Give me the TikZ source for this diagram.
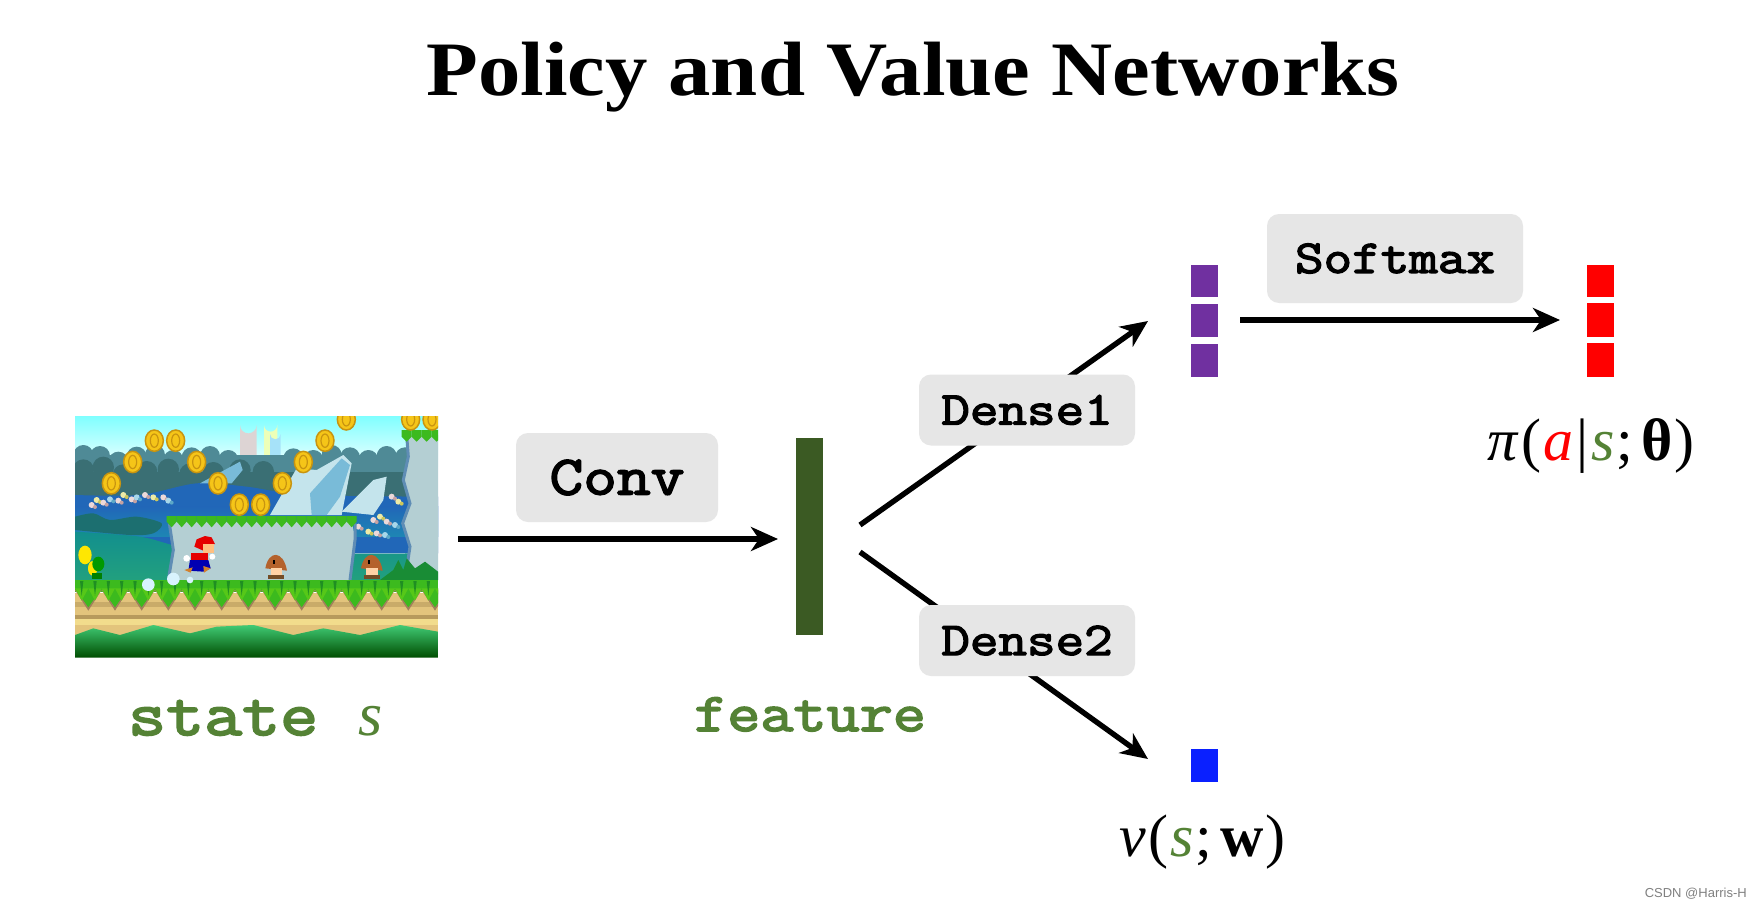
\documentclass[tikz,border=0pt]{standalone}
\usepackage{fontspec}
\usetikzlibrary{arrows.meta,shapes.geometric}
\setmainfont{Liberation Serif}
\newfontfamily\crbold{Latin Modern Mono}[FakeBold=3,FakeStretch=1.18]
\newfontfamily\titlefont{Liberation Serif}[FakeStretch=1.1]
\newcommand{\sz}[1]{\fontsize{#1}{#1}\selectfont}
\definecolor{boxgray}{HTML}{E6E6E6}
\definecolor{stategreen}{HTML}{548235}
\definecolor{barGreen}{HTML}{3B5A23}
\definecolor{barPurple}{HTML}{7030A0}
\definecolor{barBlue}{HTML}{0A20FF}
\definecolor{coinY}{HTML}{F5C518}
\definecolor{coinD}{HTML}{C89410}
\definecolor{grassG}{HTML}{3CBA1E}
\definecolor{grassD}{HTML}{1F8F22}
\definecolor{rockB}{HTML}{B4CFD3}
\definecolor{rockE}{HTML}{5F8DB5}
\definecolor{forA}{HTML}{4F8A96}
\definecolor{forB}{HTML}{3A6F74}
\definecolor{waterA}{HTML}{2167B8}
\definecolor{waterB}{HTML}{1E86B4}
\definecolor{hillA}{HTML}{128F8E}
\definecolor{hillB}{HTML}{22A07E}
\definecolor{bushT}{HTML}{1C6F70}
\definecolor{crysA}{HTML}{C4E4EC}
\definecolor{crysB}{HTML}{79BBD8}
\definecolor{tanA}{HTML}{E3C47C}
\definecolor{tanB}{HTML}{B79A5C}
\definecolor{tanC}{HTML}{F2DC8C}
\definecolor{goom}{HTML}{B4622C}
\tikzset{
  opbox/.style={fill=boxgray,rounded corners=12pt,inner sep=0pt,text=black,align=center},
  cell/.style={inner sep=0pt,minimum width=27.4pt,draw=none},
  conn/.style={line width=5.4pt,-{Stealth[length=27pt,width=24pt,inset=8pt]}},
  glabel/.style={inner sep=0pt,anchor=base,text=stategreen},
  mlabel/.style={inner sep=0pt,anchor=base west},
  coin/.style={fill=coinY,draw=coinD,line width=1.5pt}
}
\begin{document}
\begin{tikzpicture}[x=1pt,y=-1pt]
\useasboundingbox (0,0) rectangle (1760,907);
\fill[white] (0,0) rectangle (1760,907);
% ---------- game screenshot ----------
\begin{scope}[shift={(40,380)},x=0.33333pt,y=-0.33333pt]
\clip (105,108) rectangle (1194,833);
\shade[top color=cyan!50,bottom color=cyan!6] (105,108) rectangle (1194,260);
\fill[red!12!gray!30] (600,235) -- (600,135) arc[start angle=180,end angle=0,radius=25] -- (650,235) -- cycle;
\fill[green!25!yellow!28] (672,235) -- (672,135) arc[start angle=180,end angle=0,radius=20] -- (712,235) -- cycle;
\fill[cyan!35] (690,235) -- (690,162) arc[start angle=180,end angle=0,radius=16] -- (722,235) -- cycle;
\fill[forA] (105,225) rectangle (1194,380);
\foreach \x/\y in {130/225,180/228,235/245,290/230,345/225,400/240,455/232,510/228,565/240,760/235,820/240,875/225,930/232,985/240,1040/228,1095/232}
  {\fill[forA] (\x,\y) circle[radius=30];}
\fill[forB] (105,275) rectangle (1194,380);
\foreach \x/\y in {130/270,190/262,250/285,320/275,385/268,450/282,520/278,600/270,670/275}
  {\fill[forB] (\x,\y) circle[radius=32];}
\fill[waterA] plot[smooth] coordinates {(105,345) (300,345) (470,310) (620,320) (800,345) (1194,350)} -- (1194,520) -- (105,520) -- cycle;
\shade[top color=waterA,bottom color=waterB] (105,380) rectangle (1194,470);
\fill[crysB] (480,310) -- (600,245) -- (608,270) -- (575,310) -- cycle;
\fill[crysA] (690,405) -- (770,265) -- (830,270) -- (910,225) -- (935,250) -- (905,405) -- cycle;
\fill[crysB] (810,340) -- (905,235) -- (930,255) -- (900,350) -- (860,405) -- (815,405) -- cycle;
\fill[crysA] (905,395) -- (1000,300) -- (1040,290) -- (1030,360) -- (1000,405) -- cycle;
\shade[top color=hillA,bottom color=hillB] plot[smooth] coordinates {(105,455) (300,470) (420,500) (600,520) (1194,520)} -- (1194,600) -- (105,600) -- cycle;
\fill[bushT] plot[smooth] coordinates {(105,410) (160,400) (210,420) (290,410) (365,430) (340,460) (270,465) (105,450)} -- cycle;
\foreach \x/\y/\c in {155/375/pink,170/360/yellow,190/368/pink,210/358/cyan,235/362/pink,250/345/yellow,275/358/pink,290/352/cyan,315/345/pink,340/352/yellow,370/352/pink,385/362/cyan,1000/420/pink,1020/410/yellow,1040/425/pink,1065/435/cyan,955/440/pink,985/455/yellow,1010/460/pink,1035/465/cyan,1055/350/pink,1075/365/yellow}
  {\fill[\c!35!white!85!gray] (\x,\y) circle[radius=9]; \fill[\c!55!gray] (\x+10,\y+6) circle[radius=6];}
% platform
\fill[rockB] (388,425) -- (935,425) -- (945,470) -- (930,600) -- (385,600) -- (400,510) -- cycle;
\draw[rockE,line width=3pt] (388,430) -- (400,510) -- (385,600);
\draw[rockE,line width=3pt] (945,430) -- (945,480) -- (930,600);
\foreach \x in {380,410,...,920}
  {\fill[grassG] (\x,408) -- (\x+30,408) -- (\x+30,425) -- (\x+15,442) -- (\x,425) -- cycle;}
% right pillar
\fill[rockB] (1100,165) -- (1194,165) -- (1194,600) -- (1095,600) -- (1110,500) -- (1088,430) -- (1110,370) -- (1090,300) -- (1105,230) -- cycle;
\draw[rockE,line width=3pt] (1100,165) -- (1105,230) -- (1090,300) -- (1110,370) -- (1088,430) -- (1110,500) -- (1095,600);
\foreach \x in {1085,1115,...,1175}
  {\fill[grassG] (\x,150) -- (\x+30,150) -- (\x+30,170) -- (\x+15,185) -- (\x,170) -- cycle;}
\fill[grassD!80!teal] (1020,600) -- (1060,570) -- (1075,540) -- (1090,570) -- (1100,535) -- (1125,565) -- (1155,545) -- (1194,575) -- (1194,600) -- cycle;
% coins
\foreach \x/\y in {343/182,407/182,278/246,470/246,214/310,534/310,598/374,662/374,727/310,790/246,855/182,919/118,1112/118,1176/118}
  {\draw[coin] (\x,\y) ellipse[x radius=27,y radius=32];
   \draw[coinD,line width=1.2pt] (\x,\y) ellipse[x radius=12,y radius=20];}
% ground
\fill[tanA] (105,640) rectangle (1194,790);
\fill[tanB] (105,705) rectangle (1194,716);
\fill[tanC] (105,716) rectangle (1194,736);
\fill[tanB!60!tanA] (105,665) rectangle (1194,680);
\fill[grassG] (105,600) rectangle (1194,635);
\foreach \x in {105,185,...,1185}
  {\fill[brown!55!gray] (\x,630) -- (\x+80,630) -- (\x+40,692) -- cycle;
   \fill[grassG] (\x,625) -- (\x+80,625) -- (\x+40,682) -- cycle;}
\foreach \x in {105,145,...,1185}
  {\fill[grassG!80!lime] (\x,625) -- (\x+40,625) -- (\x+20,662) -- cycle;
   \fill[grassD] (\x+15,603) -- (\x+25,603) -- (\x+20,648) -- cycle;}
\shade[top color=green!45!teal!75,bottom color=green!30!black] (105,765) -- (160,745) -- (240,765) -- (340,735) -- (450,760) -- (530,740) -- (640,735) -- (760,765) -- (850,745) -- (960,765) -- (1080,735) -- (1194,755) -- (1194,833) -- (105,833) -- cycle;
% clouds
\fill[white!85!cyan] (325,614) circle[radius=19] (400,597) circle[radius=19] (450,600) circle[radius=10];
% koopa
\fill[yellow!90!orange] (135,525) ellipse[x radius=20,y radius=28];
\fill[yellow!90!orange] (158,565) ellipse[x radius=14,y radius=22];
\fill[green!60!black] (175,552) ellipse[x radius=18,y radius=22];
\fill[green!50!black] (155,580) rectangle (185,598);
% mario
\fill[red!90!black] (463,500) -- (470,478) -- (495,468) -- (515,472) -- (525,492) -- (495,492) -- (490,512) -- cycle;
\fill[orange!50!white] (488,492) rectangle (522,520);
\fill[red!90!black] (452,518) rectangle (505,548);
\fill[blue!70!black] (450,540) -- (505,540) -- (512,565) -- (490,575) -- (445,572) -- cycle;
\fill[white] (440,535) circle[radius=10] (517,530) circle[radius=9];
\fill[brown!70!orange] (433,570) -- (458,562) -- (452,578) -- cycle (490,558) -- (512,565) -- (492,578) -- cycle;
% goombas
\foreach \x in {708,995}
  {\fill[goom] (\x-32,565) .. controls (\x-22,510) and (\x+22,510) .. (\x+33,572) -- cycle;
   \fill[orange!35!white] (\x-16,565) rectangle (\x+18,585);
   \fill[black] (\x-10,540) rectangle (\x-4,552);
   \fill[brown!60!black] (\x-24,585) rectangle (\x+24,598);}
\end{scope}
% ---------- connectors ----------
\coordinate (convS) at (458,539);
\coordinate (convE) at (778,539);
\coordinate (softS) at (1240,320);
\coordinate (softE) at (1560,320);
\coordinate (upS) at (860,525);
\coordinate (upE) at (1148,321);
\coordinate (loS) at (860,552);
\coordinate (loE) at (1148,759);
\draw[conn] (convS) -- (convE);
\draw[conn] (softS) -- (softE);
\draw[conn] (upS) -- (upE);
\draw[conn] (loS) -- (loE);
% ---------- boxes ----------
\node[opbox,minimum width=202pt,minimum height=89pt,font=\crbold\sz{55.5}] (conv) at (617,477.5) {Conv};
\node[opbox,minimum width=216pt,minimum height=71pt,font=\crbold\sz{47}] (denseA) at (1027,410) {Dense1};
\node[opbox,minimum width=216pt,minimum height=71pt,font=\crbold\sz{47}] (denseB) at (1027,640.5) {Dense2};
\node[opbox,minimum width=256pt,minimum height=89pt,font=\crbold\sz{47}] (softmax) at (1395,258.5) {Softmax};
% ---------- bars ----------
\node[cell,fill=barGreen,minimum height=197pt] (feat) at (809.5,536.5) {};
\node[cell,fill=barPurple,minimum height=32pt] (pa) at (1204.5,280.5) {};
\node[cell,fill=barPurple,minimum height=33pt] (pb) at (1204.5,320.5) {};
\node[cell,fill=barPurple,minimum height=33pt] (pc) at (1204.5,360.5) {};
\node[cell,fill=red,minimum height=32pt] (ra) at (1600.5,280.5) {};
\node[cell,fill=red,minimum height=34pt] (rb) at (1600.5,320) {};
\node[cell,fill=red,minimum height=34pt] (rc) at (1600.5,360) {};
\node[cell,fill=barBlue,minimum height=33pt] (vb) at (1204.5,765.5) {};
% ---------- labels ----------
\node[inner sep=0pt,anchor=base,font=\titlefont\bfseries\sz{77}] (title) at (913,95) {Policy and Value Networks};
\node[glabel,anchor=base west,font=\crbold\sz{62.5}] (statelbl) at (128,735) {state};
\node[glabel,anchor=base west,font=\itshape\sz{62}] (slbl) at (358,735) {s};
\node[glabel,font=\crbold\sz{54.5}] (featlbl) at (810,731) {feature};
\node[mlabel,font=\sz{60}] (pilbl) at (1487,460) {\textit{π}\kern3pt(\kern2pt\textcolor{red}{\textit{a}}\kern3pt|\kern3pt\textcolor{stategreen}{\textit{s}}\kern1pt;\kern9pt\textbf{θ}\kern2pt)};
\node[mlabel,font=\sz{60}] (vlbl) at (1119,856) {\textit{v}\kern3pt(\kern2pt\textcolor{stategreen}{\textit{s}}\kern1pt;\kern9pt\textbf{w}\kern1pt)};
\node[inner sep=0pt,anchor=base east,text=gray,font=\fontspec{Liberation Sans}\sz{13}] (wm) at (1747,897) {CSDN @Harris-H};
\end{tikzpicture}
\end{document}
